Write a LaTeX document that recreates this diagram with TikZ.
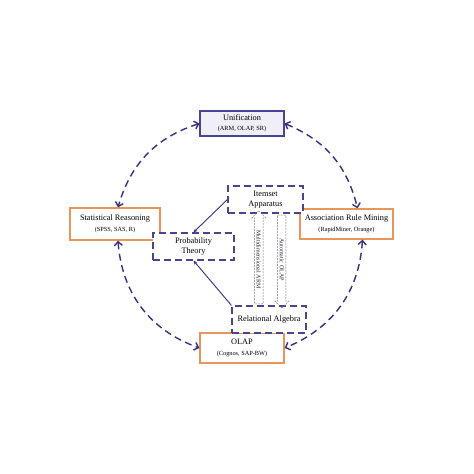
\documentclass[tikz,border=0pt]{standalone}
\usepackage{fontspec}
\setmainfont{Liberation Serif}
\usetikzlibrary{arrows.meta,shapes.arrows,calc}
\definecolor{navy}{HTML}{35307F}
\definecolor{boxblue}{HTML}{4A4494}
\definecolor{lav}{HTML}{F0EFF8}
\definecolor{orng}{HTML}{E9955A}
\definecolor{hgray}{HTML}{77778A}
\newcommand{\ttl}{\fontsize{8.3}{10.5}\selectfont}
\newcommand{\sbt}{\fontsize{6.3}{8}\selectfont}
\begin{document}
\begin{tikzpicture}[x=1pt,y=1pt,
  unifbox/.style={draw=boxblue,fill=lav,line width=1.1pt,minimum width=84pt,minimum height=25pt,align=center,inner sep=1pt},
  toolbox/.style={draw=orng,fill=white,line width=1.3pt,align=center,inner sep=1pt},
  dbox/.style={draw=navy!90!white,fill=white,line width=1.2pt,dash pattern=on 7pt off 4pt,align=center,inner sep=1pt,font=\ttl},
  circarrow/.style={draw=navy,line width=1.4pt,dash pattern=on 7pt off 4.5pt,{Straight Barb[length=4pt,width=8pt]}-{Straight Barb[length=4pt,width=8pt]}},
  thinarrow/.style={draw=navy,line width=0.9pt,-{Stealth[length=4pt,width=3.5pt]}},
  hollowarrow/.style={single arrow,draw=hgray,line width=0.5pt,dash pattern=on 2pt off 1pt,rotate=-90,
     minimum height=93pt,minimum width=14pt,single arrow head extend=2.5pt,inner sep=1.5pt,
     font=\fontsize{6}{7}\selectfont,text=black!85}]
\useasboundingbox (0,0) rectangle (474,474);
\fill[white] (0,0) rectangle (474,474);

% main boxes
\node[unifbox] (unif) at (242,350.5) {\ttl Unification\\[-1.5pt]\sbt (ARM, OLAP, SR)};
\node[toolbox,minimum width=90pt,minimum height=32pt] (stat) at (115,250) {\ttl Statistical Reasoning\\[-1.5pt]\sbt (SPSS, SAS, R)};
\node[toolbox,minimum width=93pt,minimum height=30pt] (arm) at (346.5,250) {\ttl Association Rule Mining\\[-1.5pt]\sbt (RapidMiner, Orange)};
\node[toolbox,minimum width=84pt,minimum height=30pt] (olap) at (242,126) {\ttl OLAP\\[-1.5pt]\sbt (Cognos, SAP-BW)};

% dashed boxes
\node[dbox,minimum width=75pt,minimum height=27pt] (itemset) at (265.5,274.5) {Itemset\\Apparatus};
\node[dbox,minimum width=81pt,minimum height=27pt] (prob) at (193.5,227.5) {Probability\\Theory};
\node[dbox,minimum width=74pt,minimum height=27pt] (relalg) at (269,154.5) {Relational Algebra};

% circle arrows
\draw[circarrow] (unif.west) to[bend right=28] ([xshift=3pt]stat.north);
\draw[circarrow] (unif.east) to[bend left=27] ([xshift=11pt]arm.north);
\draw[circarrow] ([xshift=3pt]stat.south) to[bend right=33] (olap.west);
\draw[circarrow] ([xshift=16pt]arm.south) to[bend left=32] (olap.east);

% lines to probability theory
\draw[thinarrow] (itemset.west) -- (prob.north);
\draw[thinarrow] (relalg.north west) -- (prob.south);

% hollow arrows
\node[hollowarrow,shape border rotate=180] (marm) at ($(itemset.south)!0.5!(relalg.north)+(-8.5,0)$) {Multidimensional ARM};
\node[hollowarrow] (aolap) at ($(itemset.south)!0.5!(relalg.north)+(14.5,0)$) {Automatic OLAP};
\end{tikzpicture}
\end{document}
